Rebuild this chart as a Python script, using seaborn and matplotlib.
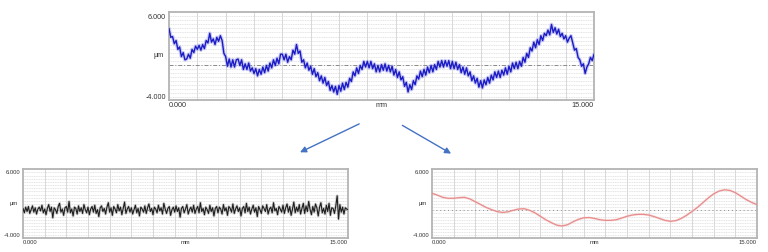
import numpy as np
import pandas as pd
import matplotlib
matplotlib.use("Agg")
import matplotlib.pyplot as plt
import seaborn as sns
from matplotlib.ticker import MultipleLocator
from matplotlib.patches import FancyArrowPatch

sns.set_theme(style="white")
plt.rcParams["font.family"] = ["Liberation Sans", "DejaVu Sans"]

# ---------------- data ----------------
# primary profile, sampled every 1/16 mm from 0 to 15 mm
profile_um = [
    4.5, 3.4, 3.5, 2.6, 3.0, 1.9, 2.2, 1.0, 1.5, 0.6, 0.7, 1.3, 0.8, 1.9, 1.5, 2.3,
    1.9, 2.4, 1.8, 2.5, 2.0, 3.0, 2.7, 3.9, 2.8, 3.2, 2.5, 3.4, 2.9, 3.6, 3.0, 1.4,
    1.0, -0.2, 0.7, -0.3, 0.6, -0.3, 0.6, 0.7, -0.1, 0.6, -0.6, 0.1, -0.6, 0.2, -0.8, -0.4,
    -1.1, -0.5, -1.4, -0.6, -1.2, -0.3, -1.0, -0.1, -0.8, 0.2, -0.4, 0.6, -0.1, 0.8, 0.1, 1.3,
    1.3, 0.6, 1.3, 0.3, 1.0, 0.6, 1.8, 1.3, 2.5, 1.4, 1.7, 0.3, 0.6, -0.4, 0.2, -0.7,
    -0.2, -1.2, -0.5, -1.5, -1.0, -2.0, -1.4, -2.3, -1.6, -2.6, -2.1, -3.2, -2.6, -3.4, -2.7, -3.7,
    -2.6, -3.3, -2.3, -3.1, -2.2, -2.8, -1.7, -2.1, -0.9, -1.4, -0.4, -1.1, -0.1, -0.6, 0.4, -0.3,
    0.4, -0.4, 0.4, -0.5, 0.1, -0.9, -0.1, -0.9, 0.0, -0.7, 0.1, -0.8, -0.1, -0.9, -0.2, -1.3,
    -0.6, -1.6, -0.9, -1.9, -1.5, -2.7, -2.2, -3.4, -2.5, -3.1, -2.0, -2.5, -1.4, -1.8, -0.8, -1.5,
    -0.6, -1.3, -0.3, -1.0, -0.1, -0.9, 0.0, -0.6, 0.4, -0.3, 0.5, -0.3, 0.5, -0.2, 0.5, -0.5,
    0.4, -0.5, 0.3, -0.6, 0.0, -1.0, -0.3, -1.2, -0.4, -1.4, -0.9, -2.0, -1.4, -2.3, -1.7, -2.8,
    -2.0, -2.9, -1.9, -2.5, -1.6, -2.3, -1.3, -1.9, -0.9, -1.6, -0.8, -1.6, -0.7, -1.3, -0.4, -1.2,
    -0.2, -0.9, 0.2, -0.5, 0.3, -0.5, 0.4, -0.2, 0.9, 0.3, 1.4, 0.9, 2.1, 1.7, 2.8, 2.1,
    3.1, 2.5, 3.6, 3.0, 3.9, 3.6, 4.3, 3.7, 5.0, 4.0, 4.6, 3.8, 4.4, 3.5, 3.9, 3.2,
    3.6, 2.8, 3.3, 3.6, 2.7, 1.8, 2.0, 0.9, 0.6, -0.2, 0.1, -1.1, -0.3, 0.1, 0.9, 0.5,
    1.3,
]

# roughness profile, sampled every 1/16 mm
roughness_um = [
    0.3, -0.4, 0.5, -0.2, 0.6, -0.5, 0.1, 0.7, -0.3, 0.4, -0.6, 0.2, 0.5, -0.1, 0.8, -0.4,
    0.2, -0.7, 0.3, 0.9, -0.2, 0.5, -1.2, 0.4, 0.1, -0.5, 0.6, 1.1, -0.3, 0.2, -0.8, 0.4,
    0.6, -0.3, 1.4, -0.4, 0.2, -0.9, 0.5, 0.3, -0.6, 0.7, -0.2, 0.4, -0.5, 0.9, 0.1, -0.4,
    0.5, -0.7, 0.2, 0.6, -0.3, 0.8, -0.5, 0.1, -1.0, 0.4, 0.7, -0.2, 0.3, -0.6, 0.5, 1.2,
    -0.3, 0.4, -0.8, 0.6, 0.2, -0.4, 0.9, -0.1, 0.5, -0.7, 0.3, 1.3, -0.5, 0.2, 0.6, -0.3,
    0.4, -0.6, 0.1, 0.8, -0.4, 0.3, -0.9, 0.5, 0.2, -0.3, 0.7, -0.5, 0.4, 1.0, -0.2, 0.3,
    -0.7, 0.5, 0.2, -0.4, 0.8, -0.1, 0.4, -0.6, 1.1, 0.2, -0.5, 0.3, 0.6, -0.8, 0.1, 0.5,
    -0.3, 0.7, -0.2, 0.4, -1.1, 0.3, 0.6, -0.4, 0.2, 0.9, -0.6, 0.1, 0.5, -0.3, 0.8, -0.5,
    0.2, 0.6, -0.4, 1.2, -0.2, 0.3, -0.7, 0.5, 0.1, -0.5, 0.8, -0.2, 0.4, -0.9, 0.3, 0.6,
    -0.4, 0.5, 0.2, -0.6, 0.9, -0.1, 0.4, -0.8, 0.6, 0.3, -0.3, 1.0, -0.5, 0.2, 0.7, -0.2,
    0.4, -0.9, 0.3, 0.6, -0.4, 1.1, -0.2, 0.5, -0.6, 0.2, 0.8, -0.3, 0.4, -1.0, 0.6, 0.1,
    -0.5, 0.7, 0.3, -0.2, 0.9, -0.6, 0.2, 0.5, -0.4, 1.2, -0.1, 0.3, -0.7, 0.6, 0.2, -0.3,
    0.8, -0.5, 0.4, 1.0, -0.3, 0.6, -0.8, 0.2, 1.3, -0.4, 0.5, -0.2, 0.9, -0.6, 0.3, 1.1,
    -0.5, 0.7, -0.2, 1.4, 0.1, -0.7, 0.6, -0.3, 1.0, 0.4, -0.9, 0.5, 1.2, -0.4, 0.3, -0.6,
    0.8, -0.2, 1.1, -0.8, 0.4, 0.3, -0.5, 0.7, 2.3, -1.4, 0.9, -0.3, 0.5, -0.6, 0.4, 0.2,
    0.1,
]

# waviness profile, sampled every 0.25 mm
waviness_um = [
    2.7, 2.4, 2.05, 1.9, 1.9, 2.0, 2.05, 1.8, 1.35, 0.9, 0.45, 0.1, -0.2, -0.35, -0.25, 0.0,
    0.2, 0.25, 0.0, -0.4, -0.95, -1.5, -1.95, -2.35, -2.5, -2.3, -1.85, -1.45, -1.2, -1.15,
    -1.3, -1.5, -1.6, -1.6, -1.5, -1.25, -0.95, -0.75, -0.65, -0.65, -0.75, -1.0, -1.3, -1.6,
    -1.75, -1.65, -1.3, -0.8, -0.2, 0.45, 1.2, 1.95, 2.6, 3.05, 3.25, 3.15, 2.8, 2.25, 1.7,
    1.25, 0.9,
]

y_tick_values = [6.0, -4.0]
y_tick_labels = ["6.000", "-4.000"]
x_tick_values = [0.0, 7.5, 15.0]
x_tick_labels = ["0.000", "mm", "15.000"]
y_unit = "µm"

profile_df = pd.DataFrame({"mm": np.arange(len(profile_um)) / 16.0, "um": profile_um})
rough_df = pd.DataFrame({"mm": np.arange(len(roughness_um)) / 16.0, "um": roughness_um})
wavi_df = pd.DataFrame({"mm": np.arange(len(waviness_um)) / 4.0, "um": waviness_um})

# ---------------- figure ----------------
fig = plt.figure(figsize=(7.68, 2.52), dpi=100)
W, H = 768.0, 252.0


def add_axes(x0, y0, x1, y1):
    return fig.add_axes([x0 / W, 1 - y1 / H, (x1 - x0) / W, (y1 - y0) / H])


def style(ax, fs, zero_ls):
    ax.set_xlim(0, 15)
    ax.set_ylim(-4.4, 6.55)
    ax.set_facecolor("white")
    ax.xaxis.set_minor_locator(MultipleLocator(1))
    ax.yaxis.set_minor_locator(MultipleLocator(0.5))
    ax.set_xticks(x_tick_values)
    ax.set_xticklabels(x_tick_labels)
    ax.set_yticks(y_tick_values)
    ax.set_yticklabels(y_tick_labels)
    ax.grid(which="minor", axis="x", color="#d2d2d2", lw=0.6, ls="-")
    ax.grid(which="both", axis="y", color="#d9d9d9", lw=0.5, ls=(0, (1.5, 1)))
    ax.grid(which="major", axis="x", visible=False)
    ax.set_axisbelow(True)
    ax.tick_params(which="both", length=0, labelsize=fs, colors="#333333", pad=2)
    ax.tick_params(axis="x", pad=1.5)
    xl = ax.get_xticklabels()
    xl[0].set_ha("left")
    xl[2].set_ha("right")
    for s in ax.spines.values():
        s.set_color("#b4b4b4")
        s.set_linewidth(1.3)
    ax.set_xlabel("")
    ax.set_ylabel("")
    ax.annotate(y_unit, xy=(0, 0.5), xycoords="axes fraction", xytext=(-4, 0),
                textcoords="offset points", ha="right", va="center",
                fontsize=fs, color="#333333")
    ax.axhline(0, color="#8a8a8a", lw=0.7, ls=zero_ls, zorder=1.5)


# top: primary profile
ax_top = add_axes(169, 12, 594, 100)
sns.lineplot(data=profile_df, x="mm", y="um", ax=ax_top, color="#8c8cf0",
             lw=2.6, alpha=0.45, estimator=None, zorder=2.5)
sns.lineplot(data=profile_df, x="mm", y="um", ax=ax_top, color="#1c1cc4",
             lw=1.0, estimator=None, zorder=3)
style(ax_top, 5.2, (0, (4, 2, 1, 2)))

# bottom left: roughness
ax_r = add_axes(23, 169, 348, 238)
sns.lineplot(data=rough_df, x="mm", y="um", ax=ax_r, color="#9a9a9a",
             lw=2.0, alpha=0.45, estimator=None, zorder=2.5)
sns.lineplot(data=rough_df, x="mm", y="um", ax=ax_r, color="#1e1e1e",
             lw=0.8, estimator=None, zorder=3)
style(ax_r, 4.2, (0, (1, 3)))

# bottom right: waviness
ax_w = add_axes(432, 169, 757, 238)
sns.lineplot(data=wavi_df, x="mm", y="um", ax=ax_w, color="#f4c4c4",
             lw=1.8, alpha=0.4, estimator=None, zorder=2.5)
sns.lineplot(data=wavi_df, x="mm", y="um", ax=ax_w, color="#e88c8c",
             lw=0.9, estimator=None, zorder=3)
style(ax_w, 4.2, (0, (1, 3)))

# arrows
for (xa, ya), (xb, yb) in [((361.7, 122.7), (297.5, 153.5)),
                           ((400.0, 124.0), (453.5, 155.0))]:
    fig.add_artist(FancyArrowPatch((xa / W, 1 - ya / H), (xb / W, 1 - yb / H),
                                   transform=fig.transFigure, arrowstyle="-|>",
                                   mutation_scale=9, color="#4472c4", lw=1.0))

fig.savefig("out.png", dpi=100, facecolor="white")
